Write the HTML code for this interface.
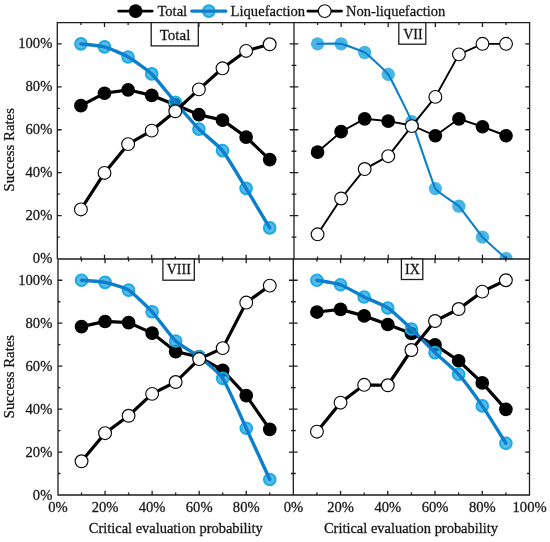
<!DOCTYPE html>
<html><head><meta charset="utf-8"><title>Success rates</title>
<style>
html,body{margin:0;padding:0;background:#fff;}
body{width:550px;height:542px;overflow:hidden;}
svg{display:block;}
text{font-family:"Liberation Serif","Times New Roman",serif;fill:#161616;stroke:#161616;stroke-width:0.28px;}
.t{font-size:14.6px;}
.a{font-size:14.45px;}
.b{font-size:15.0px;}
</style></head><body>
<svg width="550" height="542" viewBox="0 0 550 542">
<rect width="550" height="542" fill="#fff"/>
<defs><clipPath id="ct"><rect x="0" y="0" width="550" height="259.5"/></clipPath></defs>
<g clip-path="url(#ct)">
<path d="M80.9 105.7 L104.5 93.24 L128.1 89.81 L151.7 95.39 L175.3 104.84 L198.9 114.72 L222.5 120.09 L246.1 137.05 L269.7 159.6" fill="none" stroke="#000" stroke-width="3.2"/>
<circle cx="80.9" cy="105.7" r="6.85" fill="#000"/>
<circle cx="104.5" cy="93.24" r="6.85" fill="#000"/>
<circle cx="128.1" cy="89.81" r="6.85" fill="#000"/>
<circle cx="151.7" cy="95.39" r="6.85" fill="#000"/>
<circle cx="175.3" cy="104.84" r="6.85" fill="#000"/>
<circle cx="198.9" cy="114.72" r="6.85" fill="#000"/>
<circle cx="222.5" cy="120.09" r="6.85" fill="#000"/>
<circle cx="246.1" cy="137.05" r="6.85" fill="#000"/>
<circle cx="269.7" cy="159.6" r="6.85" fill="#000"/>
<circle cx="80.9" cy="43.85" r="5.85" fill="#109cde" fill-opacity="0.7" stroke="#19abe5" stroke-width="1.9"/>
<circle cx="104.5" cy="46.86" r="5.85" fill="#109cde" fill-opacity="0.7" stroke="#19abe5" stroke-width="1.9"/>
<circle cx="128.1" cy="56.95" r="5.85" fill="#109cde" fill-opacity="0.7" stroke="#19abe5" stroke-width="1.9"/>
<circle cx="151.7" cy="73.92" r="5.85" fill="#109cde" fill-opacity="0.7" stroke="#19abe5" stroke-width="1.9"/>
<circle cx="175.3" cy="102.26" r="5.85" fill="#109cde" fill-opacity="0.7" stroke="#19abe5" stroke-width="1.9"/>
<circle cx="198.9" cy="129.11" r="5.85" fill="#109cde" fill-opacity="0.7" stroke="#19abe5" stroke-width="1.9"/>
<circle cx="222.5" cy="150.58" r="5.85" fill="#109cde" fill-opacity="0.7" stroke="#19abe5" stroke-width="1.9"/>
<circle cx="246.1" cy="188.38" r="5.85" fill="#109cde" fill-opacity="0.7" stroke="#19abe5" stroke-width="1.9"/>
<circle cx="269.7" cy="227.89" r="5.85" fill="#109cde" fill-opacity="0.7" stroke="#19abe5" stroke-width="1.9"/>
<path d="M80.9 43.85 C83.06 44.13 100.17 45.66 104.5 46.86 C108.83 48.06 123.77 54.47 128.1 56.95 C132.43 59.43 147.37 69.76 151.7 73.92 C156.03 78.07 170.97 97.2 175.3 102.26 C179.63 107.32 194.57 124.68 198.9 129.11 C203.23 133.53 218.17 145.15 222.5 150.58 C226.83 156.01 241.77 181.29 246.1 188.38 C250.43 195.46 267.54 224.27 269.7 227.89" fill="none" stroke="#0b7fcc" stroke-width="3.4000000000000004" stroke-linecap="round" stroke-linejoin="round"/>
<path d="M80.9 209.42 L104.5 172.91 L128.1 144.14 L151.7 130.61 L175.3 111.28 L198.9 89.38 L222.5 68.33 L246.1 50.94 L269.7 44.28" fill="none" stroke="#000" stroke-width="3.2"/>
<circle cx="80.9" cy="209.42" r="6.4" fill="#fff" stroke="#0a0a0a" stroke-width="1.15"/>
<circle cx="104.5" cy="172.91" r="6.4" fill="#fff" stroke="#0a0a0a" stroke-width="1.15"/>
<circle cx="128.1" cy="144.14" r="6.4" fill="#fff" stroke="#0a0a0a" stroke-width="1.15"/>
<circle cx="151.7" cy="130.61" r="6.4" fill="#fff" stroke="#0a0a0a" stroke-width="1.15"/>
<circle cx="175.3" cy="111.28" r="6.4" fill="#fff" stroke="#0a0a0a" stroke-width="1.15"/>
<circle cx="198.9" cy="89.38" r="6.4" fill="#fff" stroke="#0a0a0a" stroke-width="1.15"/>
<circle cx="222.5" cy="68.33" r="6.4" fill="#fff" stroke="#0a0a0a" stroke-width="1.15"/>
<circle cx="246.1" cy="50.94" r="6.4" fill="#fff" stroke="#0a0a0a" stroke-width="1.15"/>
<circle cx="269.7" cy="44.28" r="6.4" fill="#fff" stroke="#0a0a0a" stroke-width="1.15"/>
</g>
<g clip-path="url(#ct)">
<path d="M317.56 152.08 L341.12 131.68 L364.68 118.8 L388.24 121.16 L411.8 125.46 L435.36 135.76 L458.92 118.8 L482.48 126.74 L506.04 135.76" fill="none" stroke="#000" stroke-width="1.9"/>
<circle cx="317.56" cy="152.08" r="6.85" fill="#000"/>
<circle cx="341.12" cy="131.68" r="6.85" fill="#000"/>
<circle cx="364.68" cy="118.8" r="6.85" fill="#000"/>
<circle cx="388.24" cy="121.16" r="6.85" fill="#000"/>
<circle cx="411.8" cy="125.46" r="6.85" fill="#000"/>
<circle cx="435.36" cy="135.76" r="6.85" fill="#000"/>
<circle cx="458.92" cy="118.8" r="6.85" fill="#000"/>
<circle cx="482.48" cy="126.74" r="6.85" fill="#000"/>
<circle cx="506.04" cy="135.76" r="6.85" fill="#000"/>
<circle cx="317.56" cy="43.85" r="6.65" fill="#3fb1e3" fill-opacity="0.95"/>
<circle cx="341.12" cy="43.85" r="6.65" fill="#3fb1e3" fill-opacity="0.95"/>
<circle cx="364.68" cy="52.44" r="6.65" fill="#3fb1e3" fill-opacity="0.95"/>
<circle cx="388.24" cy="74.34" r="6.65" fill="#3fb1e3" fill-opacity="0.95"/>
<circle cx="411.8" cy="121.59" r="6.65" fill="#3fb1e3" fill-opacity="0.95"/>
<circle cx="435.36" cy="188.59" r="6.65" fill="#3fb1e3" fill-opacity="0.95"/>
<circle cx="458.92" cy="206.2" r="6.65" fill="#3fb1e3" fill-opacity="0.95"/>
<circle cx="482.48" cy="237.13" r="6.65" fill="#3fb1e3" fill-opacity="0.95"/>
<circle cx="506.04" cy="258.6" r="6.65" fill="#3fb1e3" fill-opacity="0.95"/>
<path d="M317.56 43.85 C318.74 43.85 338.76 43.42 341.12 43.85 C343.48 44.28 362.32 50.92 364.68 52.44 C367.04 53.96 385.88 70.89 388.24 74.34 C390.6 77.8 409.44 115.88 411.8 121.59 C414.16 127.3 433 184.36 435.36 188.59 C437.72 192.82 456.56 203.77 458.92 206.2 C461.28 208.63 480.12 234.51 482.48 237.13 C484.84 239.74 504.86 257.53 506.04 258.6" fill="none" stroke="#0b7fcc" stroke-width="2.1" stroke-linecap="round" stroke-linejoin="round"/>
<path d="M317.56 234.33 L341.12 198.47 L364.68 169.05 L388.24 156.16 L411.8 126.1 L435.36 96.89 L458.92 54.37 L482.48 43.85 L506.04 43.85" fill="none" stroke="#000" stroke-width="1.9"/>
<circle cx="317.56" cy="234.33" r="6.4" fill="#fff" stroke="#0a0a0a" stroke-width="1.15"/>
<circle cx="341.12" cy="198.47" r="6.4" fill="#fff" stroke="#0a0a0a" stroke-width="1.15"/>
<circle cx="364.68" cy="169.05" r="6.4" fill="#fff" stroke="#0a0a0a" stroke-width="1.15"/>
<circle cx="388.24" cy="156.16" r="6.4" fill="#fff" stroke="#0a0a0a" stroke-width="1.15"/>
<circle cx="411.8" cy="126.1" r="6.4" fill="#fff" stroke="#0a0a0a" stroke-width="1.15"/>
<circle cx="435.36" cy="96.89" r="6.4" fill="#fff" stroke="#0a0a0a" stroke-width="1.15"/>
<circle cx="458.92" cy="54.37" r="6.4" fill="#fff" stroke="#0a0a0a" stroke-width="1.15"/>
<circle cx="482.48" cy="43.85" r="6.4" fill="#fff" stroke="#0a0a0a" stroke-width="1.15"/>
<circle cx="506.04" cy="43.85" r="6.4" fill="#fff" stroke="#0a0a0a" stroke-width="1.15"/>
</g>
<g>
<path d="M81.53 326.64 L105.06 321.48 L128.59 322.56 L152.12 333.08 L175.65 351.55 L199.18 356.92 L222.71 370.23 L246.24 395.57 L269.77 429.29" fill="none" stroke="#000" stroke-width="3.2"/>
<circle cx="81.53" cy="326.64" r="6.85" fill="#000"/>
<circle cx="105.06" cy="321.48" r="6.85" fill="#000"/>
<circle cx="128.59" cy="322.56" r="6.85" fill="#000"/>
<circle cx="152.12" cy="333.08" r="6.85" fill="#000"/>
<circle cx="175.65" cy="351.55" r="6.85" fill="#000"/>
<circle cx="199.18" cy="356.92" r="6.85" fill="#000"/>
<circle cx="222.71" cy="370.23" r="6.85" fill="#000"/>
<circle cx="246.24" cy="395.57" r="6.85" fill="#000"/>
<circle cx="269.77" cy="429.29" r="6.85" fill="#000"/>
<circle cx="81.53" cy="280.25" r="5.85" fill="#109cde" fill-opacity="0.7" stroke="#19abe5" stroke-width="1.9"/>
<circle cx="105.06" cy="282.4" r="5.85" fill="#109cde" fill-opacity="0.7" stroke="#19abe5" stroke-width="1.9"/>
<circle cx="128.59" cy="290.13" r="5.85" fill="#109cde" fill-opacity="0.7" stroke="#19abe5" stroke-width="1.9"/>
<circle cx="152.12" cy="311.82" r="5.85" fill="#109cde" fill-opacity="0.7" stroke="#19abe5" stroke-width="1.9"/>
<circle cx="175.65" cy="341.02" r="5.85" fill="#109cde" fill-opacity="0.7" stroke="#19abe5" stroke-width="1.9"/>
<circle cx="199.18" cy="356.92" r="5.85" fill="#109cde" fill-opacity="0.7" stroke="#19abe5" stroke-width="1.9"/>
<circle cx="222.71" cy="378.39" r="5.85" fill="#109cde" fill-opacity="0.7" stroke="#19abe5" stroke-width="1.9"/>
<circle cx="246.24" cy="428.21" r="5.85" fill="#109cde" fill-opacity="0.7" stroke="#19abe5" stroke-width="1.9"/>
<circle cx="269.77" cy="479.54" r="5.85" fill="#109cde" fill-opacity="0.7" stroke="#19abe5" stroke-width="1.9"/>
<path d="M81.53 280.25 C83.69 280.45 100.75 281.49 105.06 282.4 C109.37 283.3 124.28 287.43 128.59 290.13 C132.9 292.83 147.81 307.15 152.12 311.82 C156.43 316.48 171.34 336.89 175.65 341.02 C179.96 345.16 194.87 353.49 199.18 356.92 C203.49 360.34 218.4 371.86 222.71 378.39 C227.02 384.93 241.93 418.94 246.24 428.21 C250.55 437.48 267.61 474.83 269.77 479.54" fill="none" stroke="#0b7fcc" stroke-width="3.4000000000000004" stroke-linecap="round" stroke-linejoin="round"/>
<path d="M81.53 461.28 L105.06 433.15 L128.59 415.76 L152.12 393.85 L175.65 382.04 L199.18 359.06 L222.71 348.11 L246.24 302.58 L269.77 285.62" fill="none" stroke="#000" stroke-width="3.2"/>
<circle cx="81.53" cy="461.28" r="6.4" fill="#fff" stroke="#0a0a0a" stroke-width="1.15"/>
<circle cx="105.06" cy="433.15" r="6.4" fill="#fff" stroke="#0a0a0a" stroke-width="1.15"/>
<circle cx="128.59" cy="415.76" r="6.4" fill="#fff" stroke="#0a0a0a" stroke-width="1.15"/>
<circle cx="152.12" cy="393.85" r="6.4" fill="#fff" stroke="#0a0a0a" stroke-width="1.15"/>
<circle cx="175.65" cy="382.04" r="6.4" fill="#fff" stroke="#0a0a0a" stroke-width="1.15"/>
<circle cx="199.18" cy="359.06" r="6.4" fill="#fff" stroke="#0a0a0a" stroke-width="1.15"/>
<circle cx="222.71" cy="348.11" r="6.4" fill="#fff" stroke="#0a0a0a" stroke-width="1.15"/>
<circle cx="246.24" cy="302.58" r="6.4" fill="#fff" stroke="#0a0a0a" stroke-width="1.15"/>
<circle cx="269.77" cy="285.62" r="6.4" fill="#fff" stroke="#0a0a0a" stroke-width="1.15"/>
</g>
<g>
<path d="M316.92 312.03 L340.54 309.46 L364.16 315.9 L387.78 324.49 L411.4 333.51 L435.02 344.89 L458.64 360.78 L482.26 382.9 L505.88 409.31" fill="none" stroke="#000" stroke-width="3.2"/>
<circle cx="316.92" cy="312.03" r="6.85" fill="#000"/>
<circle cx="340.54" cy="309.46" r="6.85" fill="#000"/>
<circle cx="364.16" cy="315.9" r="6.85" fill="#000"/>
<circle cx="387.78" cy="324.49" r="6.85" fill="#000"/>
<circle cx="411.4" cy="333.51" r="6.85" fill="#000"/>
<circle cx="435.02" cy="344.89" r="6.85" fill="#000"/>
<circle cx="458.64" cy="360.78" r="6.85" fill="#000"/>
<circle cx="482.26" cy="382.9" r="6.85" fill="#000"/>
<circle cx="505.88" cy="409.31" r="6.85" fill="#000"/>
<circle cx="316.92" cy="280.25" r="5.85" fill="#109cde" fill-opacity="0.7" stroke="#19abe5" stroke-width="1.9"/>
<circle cx="340.54" cy="284.76" r="5.85" fill="#109cde" fill-opacity="0.7" stroke="#19abe5" stroke-width="1.9"/>
<circle cx="364.16" cy="297" r="5.85" fill="#109cde" fill-opacity="0.7" stroke="#19abe5" stroke-width="1.9"/>
<circle cx="387.78" cy="307.95" r="5.85" fill="#109cde" fill-opacity="0.7" stroke="#19abe5" stroke-width="1.9"/>
<circle cx="411.4" cy="329" r="5.85" fill="#109cde" fill-opacity="0.7" stroke="#19abe5" stroke-width="1.9"/>
<circle cx="435.02" cy="352.62" r="5.85" fill="#109cde" fill-opacity="0.7" stroke="#19abe5" stroke-width="1.9"/>
<circle cx="458.64" cy="374.31" r="5.85" fill="#109cde" fill-opacity="0.7" stroke="#19abe5" stroke-width="1.9"/>
<circle cx="482.26" cy="405.88" r="5.85" fill="#109cde" fill-opacity="0.7" stroke="#19abe5" stroke-width="1.9"/>
<circle cx="505.88" cy="443.25" r="5.85" fill="#109cde" fill-opacity="0.7" stroke="#19abe5" stroke-width="1.9"/>
<path d="M316.92 280.25 C319.09 280.66 336.21 283.22 340.54 284.76 C344.87 286.3 359.83 294.87 364.16 297 C368.49 299.13 383.45 305.02 387.78 307.95 C392.11 310.89 407.07 324.9 411.4 329 C415.73 333.09 430.69 348.47 435.02 352.62 C439.35 356.77 454.31 369.43 458.64 374.31 C462.97 379.19 477.93 399.56 482.26 405.88 C486.59 412.2 503.71 439.82 505.88 443.25" fill="none" stroke="#0b7fcc" stroke-width="3.4000000000000004" stroke-linecap="round" stroke-linejoin="round"/>
<path d="M316.92 431.65 L340.54 402.66 L364.16 384.83 L387.78 385.26 L411.4 350.04 L435.02 321.05 L458.64 309.03 L482.26 291.63 L505.88 280.25" fill="none" stroke="#000" stroke-width="3.2"/>
<circle cx="316.92" cy="431.65" r="6.4" fill="#fff" stroke="#0a0a0a" stroke-width="1.15"/>
<circle cx="340.54" cy="402.66" r="6.4" fill="#fff" stroke="#0a0a0a" stroke-width="1.15"/>
<circle cx="364.16" cy="384.83" r="6.4" fill="#fff" stroke="#0a0a0a" stroke-width="1.15"/>
<circle cx="387.78" cy="385.26" r="6.4" fill="#fff" stroke="#0a0a0a" stroke-width="1.15"/>
<circle cx="411.4" cy="350.04" r="6.4" fill="#fff" stroke="#0a0a0a" stroke-width="1.15"/>
<circle cx="435.02" cy="321.05" r="6.4" fill="#fff" stroke="#0a0a0a" stroke-width="1.15"/>
<circle cx="458.64" cy="309.03" r="6.4" fill="#fff" stroke="#0a0a0a" stroke-width="1.15"/>
<circle cx="482.26" cy="291.63" r="6.4" fill="#fff" stroke="#0a0a0a" stroke-width="1.15"/>
<circle cx="505.88" cy="280.25" r="6.4" fill="#fff" stroke="#0a0a0a" stroke-width="1.15"/>
</g>
<g stroke="#1c1c1c" stroke-width="1.3" fill="none">
<path d="M57.3 259.0V22.6H529.6V259.0M294.0 22.6V259.0M58.0 259.0V495.0H529.5V259.0M293.3 259.0V495.0M57.3 259.0H529.6M80.9 22.6v2.4M80.9 259.0v-2.4M104.5 22.6v4.3M104.5 259.0v-4.3M128.1 22.6v2.4M128.1 259.0v-2.4M151.7 22.6v4.3M151.7 259.0v-4.3M175.3 22.6v2.4M175.3 259.0v-2.4M198.9 22.6v4.3M198.9 259.0v-4.3M222.5 22.6v2.4M222.5 259.0v-2.4M246.1 22.6v4.3M246.1 259.0v-4.3M269.7 22.6v2.4M269.7 259.0v-2.4M317.56 22.6v2.4M317.56 259.0v-2.4M341.12 22.6v4.3M341.12 259.0v-4.3M364.68 22.6v2.4M364.68 259.0v-2.4M388.24 22.6v4.3M388.24 259.0v-4.3M411.8 22.6v2.4M411.8 259.0v-2.4M435.36 22.6v4.3M435.36 259.0v-4.3M458.92 22.6v2.4M458.92 259.0v-2.4M482.48 22.6v4.3M482.48 259.0v-4.3M506.04 22.6v2.4M506.04 259.0v-2.4M81.53 259.0v2.4M81.53 495.0v-2.4M105.06 259.0v4.3M105.06 495.0v-4.3M128.59 259.0v2.4M128.59 495.0v-2.4M152.12 259.0v4.3M152.12 495.0v-4.3M175.65 259.0v2.4M175.65 495.0v-2.4M199.18 259.0v4.3M199.18 495.0v-4.3M222.71 259.0v2.4M222.71 495.0v-2.4M246.24 259.0v4.3M246.24 495.0v-4.3M269.77 259.0v2.4M269.77 495.0v-2.4M316.92 259.0v2.4M316.92 495.0v-2.4M340.54 259.0v4.3M340.54 495.0v-4.3M364.16 259.0v2.4M364.16 495.0v-2.4M387.78 259.0v4.3M387.78 495.0v-4.3M411.4 259.0v2.4M411.4 495.0v-2.4M435.02 259.0v4.3M435.02 495.0v-4.3M458.64 259.0v2.4M458.64 495.0v-2.4M482.26 259.0v4.3M482.26 495.0v-4.3M505.88 259.0v2.4M505.88 495.0v-2.4M57.3 237.13h2.4M291.6 237.13H296.4M529.6 237.13h-2.4M57.3 215.65h4.3M289.7 215.65H298.3M529.6 215.65h-4.3M57.3 194.18h2.4M291.6 194.18H296.4M529.6 194.18h-2.4M57.3 172.7h4.3M289.7 172.7H298.3M529.6 172.7h-4.3M57.3 151.23h2.4M291.6 151.23H296.4M529.6 151.23h-2.4M57.3 129.75h4.3M289.7 129.75H298.3M529.6 129.75h-4.3M57.3 108.28h2.4M291.6 108.28H296.4M529.6 108.28h-2.4M57.3 86.8h4.3M289.7 86.8H298.3M529.6 86.8h-4.3M57.3 65.33h2.4M291.6 65.33H296.4M529.6 65.33h-2.4M57.3 43.85h4.3M289.7 43.85H298.3M529.6 43.85h-4.3M58.0 473.52h2.4M290.9 473.52H295.7M529.5 473.52h-2.4M58.0 452.05h4.3M289 452.05H297.6M529.5 452.05h-4.3M58.0 430.57h2.4M290.9 430.57H295.7M529.5 430.57h-2.4M58.0 409.1h4.3M289 409.1H297.6M529.5 409.1h-4.3M58.0 387.62h2.4M290.9 387.62H295.7M529.5 387.62h-2.4M58.0 366.15h4.3M289 366.15H297.6M529.5 366.15h-4.3M58.0 344.68h2.4M290.9 344.68H295.7M529.5 344.68h-2.4M58.0 323.2h4.3M289 323.2H297.6M529.5 323.2h-4.3M58.0 301.73h2.4M290.9 301.73H295.7M529.5 301.73h-2.4M58.0 280.25h4.3M289 280.25H297.6M529.5 280.25h-4.3"/>
</g>
<rect x="151.2" y="22.6" width="47.1" height="23.3" fill="#fff" stroke="#1c1c1c" stroke-width="1.3"/>
<text style="font-size:15.0px" x="175.0" y="39.6" text-anchor="middle">Total</text>
<rect x="398.8" y="22.6" width="27" height="21.6" fill="#fff" stroke="#1c1c1c" stroke-width="1.3"/>
<text style="font-size:14.0px" x="412.9" y="38.6" text-anchor="middle">VII</text>
<rect x="162.9" y="259.0" width="31.4" height="21.2" fill="#fff" stroke="#1c1c1c" stroke-width="1.3"/>
<text style="font-size:14.0px" x="178.8" y="274.4" text-anchor="middle">VIII</text>
<rect x="401.4" y="259.0" width="21.4" height="20.5" fill="#fff" stroke="#1c1c1c" stroke-width="1.3"/>
<text style="font-size:14.0px" x="412.4" y="274.4" text-anchor="middle">IX</text>
<text class="t" x="52.3" y="263.2" text-anchor="end">0%</text>
<text class="t" x="52.3" y="220.25" text-anchor="end">20%</text>
<text class="t" x="52.3" y="177.3" text-anchor="end">40%</text>
<text class="t" x="52.3" y="134.35" text-anchor="end">60%</text>
<text class="t" x="52.3" y="91.4" text-anchor="end">80%</text>
<text class="t" x="52.3" y="48.45" text-anchor="end">100%</text>
<text class="t" x="52.3" y="499.6" text-anchor="end">0%</text>
<text class="t" x="52.3" y="456.65" text-anchor="end">20%</text>
<text class="t" x="52.3" y="413.7" text-anchor="end">40%</text>
<text class="t" x="52.3" y="370.75" text-anchor="end">60%</text>
<text class="t" x="52.3" y="327.8" text-anchor="end">80%</text>
<text class="t" x="52.3" y="284.85" text-anchor="end">100%</text>
<text class="t" x="58" y="511.8" text-anchor="middle">0%</text>
<text class="t" x="105.06" y="511.8" text-anchor="middle">20%</text>
<text class="t" x="152.12" y="511.8" text-anchor="middle">40%</text>
<text class="t" x="199.18" y="511.8" text-anchor="middle">60%</text>
<text class="t" x="246.24" y="511.8" text-anchor="middle">80%</text>
<text class="t" x="293.4" y="511.8" text-anchor="middle">0%</text>
<text class="t" x="340.64" y="511.8" text-anchor="middle">20%</text>
<text class="t" x="387.88" y="511.8" text-anchor="middle">40%</text>
<text class="t" x="435.12" y="511.8" text-anchor="middle">60%</text>
<text class="t" x="482.36" y="511.8" text-anchor="middle">80%</text>
<text class="t" x="529.6" y="511.8" text-anchor="middle">100%</text>
<text class="a" x="175.8" y="533.4" text-anchor="middle">Critical evaluation probability</text>
<text class="a" x="411" y="533.4" text-anchor="middle">Critical evaluation probability</text>
<text class="a" style="font-size:14.8px" transform="translate(13.8 149.8) rotate(-90)" text-anchor="middle">Success Rates</text>
<text class="a" style="font-size:14.8px" transform="translate(13.5 376.6) rotate(-90)" text-anchor="middle">Success Rates</text>
<path d="M118.6 11.1H152.3" stroke="#000" stroke-width="2.7" stroke-linecap="round"/><circle cx="135.6" cy="11.1" r="6.85" fill="#000"/>
<text class="t" x="157.4" y="15.6">Total</text>
<circle cx="208.8" cy="11.1" r="5.85" fill="#109cde" fill-opacity="0.7" stroke="#19abe5" stroke-width="1.9"/><path d="M191.8 11.1H225.8" stroke="#0b7fcc" stroke-width="3.4" stroke-linecap="round"/>
<text class="t" x="230.6" y="15.6">Liquefaction</text>
<path d="M307.8 11.1H341.6" stroke="#000" stroke-width="2.7" stroke-linecap="round"/><circle cx="324.7" cy="11.1" r="6.4" fill="#fff" stroke="#0a0a0a" stroke-width="1.15"/>
<text class="t" x="345.9" y="15.6" style="font-size:14.55px">Non-liquefaction</text>
</svg></body></html>
